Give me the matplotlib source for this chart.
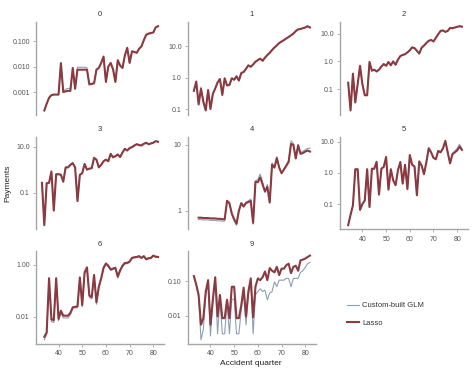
import numpy as np
import matplotlib
matplotlib.use('Agg')
import matplotlib.pyplot as plt

plt.rcParams['font.family'] = ['Liberation Sans', 'DejaVu Sans']

# accident quarters where each development period has data
q_start = {'0': 34, '1': 33, '2': 34, '3': 33, '4': 35, '5': 34, '6': 34, '9': 33}

lasso = {
    '0': [0.00019, 0.00035, 0.0006, 0.00076, 0.0008, 0.0008, 0.0008, 0.0138, 0.001, 0.00107,
          0.00112, 0.00112, 0.0089, 0.00135, 0.0076, 0.0076, 0.0076, 0.0076, 0.0076, 0.002,
          0.0021, 0.0022, 0.0076, 0.0089, 0.014, 0.025, 0.0025, 0.01, 0.014, 0.0079,
          0.0025, 0.018, 0.011, 0.0089, 0.028, 0.055, 0.014, 0.04, 0.038, 0.035,
          0.05, 0.063, 0.11, 0.18, 0.2, 0.21, 0.22, 0.35, 0.39],
    '1': [0.38, 0.75, 0.14, 0.44, 0.17, 0.09, 0.4, 0.1, 0.3, 0.45,
          0.7, 0.9, 0.28, 0.95, 0.56, 0.58, 0.95, 0.85, 1.1, 0.8,
          1.4, 1.5, 1.9, 2.45, 2.2, 2.6, 3.2, 3.6, 4.0, 3.4,
          4.3, 5.2, 6.1, 7.5, 9.0, 10.5, 12.5, 14, 15.5, 17.5,
          19.5, 22, 25, 30, 34, 35, 37, 39, 43, 39],
    '2': [0.17, 0.017, 0.36, 0.033, 0.15, 0.69, 0.15, 0.06, 0.06, 0.95,
          0.46, 0.5, 0.43, 0.5, 0.65, 0.8, 0.69, 0.95, 0.72, 1.0,
          0.75, 1.15, 1.55, 1.7, 1.8, 2.1, 2.5, 3.2, 3.0, 2.4,
          1.9, 3.1, 3.7, 4.6, 5.5, 5.9, 5.2, 7.0, 9.5, 12.5,
          13, 11.5, 12.5, 16, 15.5, 16.5, 17.5, 18.5, 17.8],
    '3': [0.27, 0.004, 0.26, 0.27, 0.83, 0.017, 0.63, 0.63, 0.6, 0.3,
          1.25, 1.25, 1.6, 1.9, 1.25, 0.044, 0.6, 0.7, 1.75, 1.0,
          1.1, 1.15, 3.2, 2.7, 1.25, 1.6, 2.3, 2.7, 2.3, 4.8,
          3.4, 3.8, 4.5, 3.5, 5.5, 7.9, 6.7, 8.5, 9.3, 11,
          12.5, 11.5, 11, 13, 14.5, 12.5, 13.5, 14.5, 17, 16],
    '4': [0.78, 0.78, 0.77, 0.77, 0.77, 0.76, 0.76, 0.76, 0.75, 0.75,
          0.74, 0.74, 1.41, 1.3, 0.9, 0.74, 0.63, 1.0, 1.3, 1.15,
          1.3, 1.35, 1.4, 0.65, 2.75, 2.7, 3.2, 2.5, 1.95, 2.3,
          1.33, 5.0, 4.5, 6.3, 4.5, 3.7, 4.2, 4.8, 5.5, 10.3,
          10, 6.2, 9.8, 7.3, 7.5, 7.9, 8.2, 7.9],
    '5': [0.021, 0.045, 0.09, 1.3, 1.3, 0.065, 0.1, 0.13, 1.3, 0.08,
          1.35, 1.35, 2.25, 0.2, 1.35, 1.55, 3.2, 0.29, 1.3, 0.57,
          0.4, 1.2, 2.2, 0.45, 1.8, 0.3, 3.7, 1.8, 1.6, 0.19,
          2.3, 1.7, 0.9, 2.2, 6.1, 4.5, 3.0, 2.7, 5.0, 4.5,
          6.0, 10.5, 4.5, 2.0, 3.9, 4.5, 5.2, 6.9, 5.4],
    '6': [0.0017, 0.0025, 0.3, 0.008, 0.0074, 0.3, 0.0083, 0.017, 0.011, 0.011,
          0.011, 0.014, 0.023, 0.024, 0.025, 0.32, 0.028, 0.5, 0.78, 0.065,
          0.056, 0.4, 0.036, 0.14, 0.3, 0.75, 1.1, 0.9, 0.65, 0.7,
          0.75, 0.35, 0.6, 0.9, 1.15, 1.16, 1.3, 1.8, 1.9, 1.95,
          2.1, 1.8, 2.1, 1.6, 1.75, 1.8, 2.2, 2.0, 1.95],
    '9': [0.14, 0.08, 0.04, 0.0055, 0.0085, 0.05, 0.107, 0.0055, 0.029, 0.13,
          0.0096, 0.04, 0.0085, 0.0085, 0.029, 0.0085, 0.069, 0.069, 0.0085, 0.0085,
          0.02, 0.065, 0.0096, 0.05, 0.12, 0.009, 0.07, 0.12, 0.107, 0.13,
          0.19, 0.107, 0.24, 0.2, 0.18, 0.26, 0.15, 0.23, 0.23, 0.29,
          0.32, 0.17, 0.26, 0.28, 0.2, 0.4, 0.42, 0.45, 0.5, 0.55],
}

glm = {
    '0': [0.00019, 0.00035, 0.0006, 0.00076, 0.0008, 0.0008, 0.0008, 0.0125, 0.00105, 0.0013,
          0.0014, 0.0014, 0.0085, 0.0014, 0.0095, 0.0095, 0.0095, 0.0095, 0.009, 0.0021,
          0.0022, 0.0023, 0.0078, 0.009, 0.014, 0.024, 0.0026, 0.01, 0.014, 0.008,
          0.0026, 0.017, 0.011, 0.009, 0.027, 0.052, 0.014, 0.04, 0.037, 0.034,
          0.05, 0.062, 0.11, 0.17, 0.19, 0.2, 0.22, 0.34, 0.38],
    '1': [0.38, 0.72, 0.15, 0.5, 0.18, 0.1, 0.42, 0.11, 0.3, 0.45,
          0.7, 0.88, 0.3, 0.92, 0.56, 0.58, 0.93, 0.85, 1.1, 0.8,
          1.35, 1.5, 1.9, 2.4, 2.2, 2.6, 3.1, 3.5, 3.9, 3.4,
          4.2, 5.1, 6.0, 7.4, 8.9, 10.5, 12.5, 14, 15.5, 17.5,
          19.5, 22, 25, 30, 34, 35, 37, 39, 42, 39],
    '2': [0.17, 0.018, 0.35, 0.034, 0.15, 0.67, 0.15, 0.062, 0.062, 0.92,
          0.46, 0.5, 0.43, 0.5, 0.65, 0.8, 0.69, 0.93, 0.72, 0.98,
          0.76, 1.15, 1.55, 1.7, 1.8, 2.1, 2.5, 3.1, 3.0, 2.4,
          1.95, 3.0, 3.7, 4.6, 5.4, 5.8, 5.2, 7.0, 9.4, 12.2,
          12.8, 11.5, 12.5, 15.5, 15.5, 16.5, 17.5, 18, 17.5],
    '3': [0.27, 0.0045, 0.27, 0.28, 0.85, 0.018, 0.66, 0.66, 0.62, 0.32,
          1.3, 1.3, 1.7, 2.0, 1.3, 0.046, 0.62, 0.72, 1.85, 1.05,
          1.15, 1.2, 3.4, 2.8, 1.3, 1.7, 2.4, 2.8, 2.4, 5.0,
          3.6, 4.0, 4.7, 3.7, 5.8, 8.3, 7.0, 8.9, 9.8, 11.5,
          13, 12, 11.5, 13.8, 15, 13, 14, 15, 17.5, 16.5],
    '4': [0.73, 0.73, 0.72, 0.72, 0.72, 0.71, 0.71, 0.71, 0.7, 0.7,
          0.69, 0.69, 1.38, 1.28, 0.88, 0.7, 0.6, 0.98, 1.3, 1.2,
          1.35, 1.4, 1.5, 0.62, 2.8, 3.0, 3.6, 2.7, 1.9, 2.5,
          1.3, 5.3, 4.6, 6.6, 4.6, 3.8, 4.3, 5.0, 5.8, 11.5,
          10.5, 6.3, 10.2, 7.6, 8.0, 8.4, 8.8, 8.9],
    '5': [0.021, 0.045, 0.09, 1.25, 1.25, 0.063, 0.1, 0.13, 1.25, 0.08,
          1.3, 1.3, 2.2, 0.2, 1.3, 1.5, 3.0, 0.28, 1.25, 0.56,
          0.4, 1.2, 2.3, 0.45, 1.8, 0.3, 3.6, 1.8, 1.6, 0.19,
          2.4, 1.7, 0.9, 2.3, 6.0, 4.5, 3.0, 2.8, 5.2, 4.6,
          6.3, 10.0, 4.7, 2.1, 4.2, 5.0, 6.0, 8.2, 6.0],
    '6': [0.0013, 0.0021, 0.26, 0.0065, 0.006, 0.27, 0.007, 0.014, 0.009, 0.009,
          0.009, 0.012, 0.021, 0.022, 0.022, 0.29, 0.024, 0.45, 0.7, 0.056,
          0.048, 0.36, 0.03, 0.12, 0.27, 0.68, 1.0, 0.82, 0.6, 0.64,
          0.7, 0.3, 0.55, 0.82, 1.05, 1.08, 1.2, 1.7, 1.8, 1.85,
          2.0, 1.7, 2.0, 1.5, 1.65, 1.7, 2.1, 1.9, 1.85],
    '9': [0.14, 0.075, 0.035, 0.002, 0.004, 0.04, 0.095, 0.0026, 0.025, 0.11,
          0.003, 0.03, 0.003, 0.003, 0.025, 0.003, 0.03, 0.03, 0.003, 0.003,
          0.015, 0.045, 0.0055, 0.04, 0.1, 0.003, 0.04, 0.05, 0.06, 0.05,
          0.055, 0.029, 0.045, 0.05, 0.095, 0.07, 0.107, 0.107, 0.107, 0.12,
          0.12, 0.069, 0.12, 0.12, 0.12, 0.18, 0.2, 0.25, 0.32, 0.35],
}

y_ticks = {
    '0': ([0.001, 0.01, 0.1], ['0.001', '0.010', '0.100']),
    '1': ([0.1, 1, 10], ['0.1', '1.0', '10.0']),
    '2': ([0.1, 1, 10], ['0.1', '1.0', '10.0']),
    '3': ([0.1, 10], ['0.1', '10.0']),
    '4': ([1, 10], ['1', '10']),
    '5': ([0.1, 1, 10], ['0.1', '1.0', '10.0']),
    '6': ([0.01, 1], ['0.01', '1.00']),
    '9': ([0.01, 0.1], ['0.01', '0.10']),
}
x_ticks = [40, 50, 60, 70, 80]

glm_color = '#8e9fb3'
lasso_color = '#8a3a40'
axis_grey = '#a6a6a6'
text_grey = '#555555'

fig, axes = plt.subplots(3, 3, figsize=(4.74, 3.72), dpi=100, sharex=True)
fig.subplots_adjust(left=0.076, right=0.987, top=0.941, bottom=0.075,
                    wspace=0.1875, hspace=0.237)

panels = ['0', '1', '2', '3', '4', '5', '6', '9']
bottom_panels = ['5', '6', '9']

for ax, key in zip(axes.flat, panels):
    x = np.arange(q_start[key], q_start[key] + len(lasso[key]))
    ax.plot(x, glm[key], color=glm_color, lw=0.8, label='Custom-built GLM')
    ax.plot(x, lasso[key], color=lasso_color, lw=1.5, label='Lasso')
    ax.set_yscale('log')
    ax.margins(y=0.05)
    ax.set_yticks(y_ticks[key][0])
    ax.set_yticklabels(y_ticks[key][1])
    ax.yaxis.set_minor_locator(matplotlib.ticker.NullLocator())
    ax.set_title(key, fontsize=5.5, color='#333333', pad=4)
    for s in ['top', 'right']:
        ax.spines[s].set_visible(False)
    ax.spines['left'].set_color(axis_grey)
    ax.spines['left'].set_linewidth(1.0)
    ax.tick_params(axis='both', labelsize=5, colors=axis_grey, labelcolor=text_grey,
                   length=2.5, width=0.6, pad=2)
    if key in bottom_panels:
        ax.spines['bottom'].set_color(axis_grey)
        ax.spines['bottom'].set_linewidth(1.0)
        ax.tick_params(axis='x', labelbottom=True)
    else:
        ax.spines['bottom'].set_visible(False)
        ax.tick_params(axis='x', bottom=False, labelbottom=False)

axes[0, 0].set_xlim(30.5, 84.5)
axes[0, 0].set_xticks(x_ticks)

# legend in the empty last cell
leg_ax = axes[2, 2]
leg_ax.axis('off')
handles, labels = axes[0, 0].get_legend_handles_labels()
leg_ax.legend(handles, labels, loc='center left', bbox_to_anchor=(0.0, 0.32),
              frameon=False, fontsize=5.5, handlelength=1.6, handletextpad=0.4,
              labelspacing=1.3, labelcolor='#333333')

fig.text(0.017, 0.508, 'Payments', rotation=90, ha='center', va='center',
         fontsize=6, color='#222222')
fig.text(0.53, 0.022, 'Accident quarter', ha='center', va='center',
         fontsize=6, color='#222222')

fig.savefig('out.png', dpi=100)
